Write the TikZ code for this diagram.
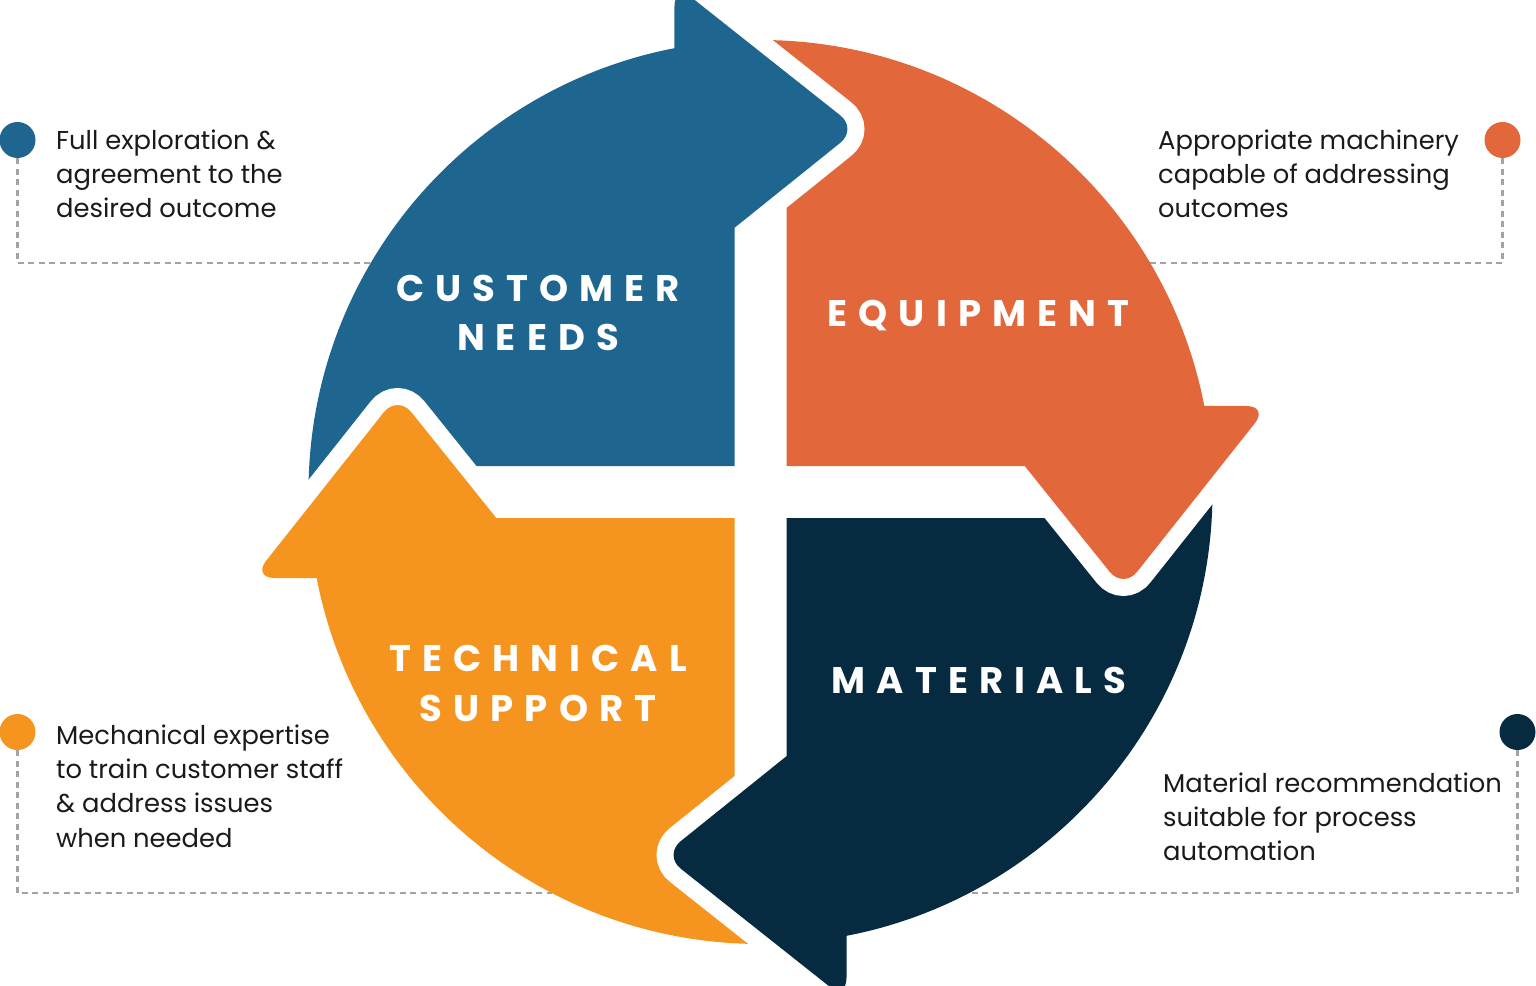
\documentclass[tikz,border=0pt]{standalone}
\usepackage{fontspec}
\setmainfont{Poppins}
\newfontfamily\titlefont{Poppins}[LetterSpace=30]
\definecolor{cblue}{HTML}{1E6690}
\definecolor{corange}{HTML}{E2673B}
\definecolor{cnavy}{HTML}{062A40}
\definecolor{cyellow}{HTML}{F5951F}
\definecolor{cguide}{HTML}{A3A3A3}
\definecolor{ctext}{HTML}{1A1A1A}
\begin{document}
\begin{tikzpicture}[x=1pt,y=1pt,
  bodytext/.style={anchor=base west, inner sep=0pt, font=\fontsize{25.8}{30}\selectfont, text=ctext},
  titletext/.style={anchor=base, inner sep=0pt, text=white, font=\titlefont\bfseries\fontsize{37}{44}\selectfont},
  gapline/.style={draw=white, line width=34pt, rounded corners=22pt},
  headfill/.style={rounded corners=22pt},
  guide/.style={draw=cguide, line width=2.5pt, dash pattern=on 6pt off 4.5pt},
  dot/.style={circle, inner sep=0pt, minimum size=36pt}
]
\useasboundingbox (-760.5,-493) rectangle (775.5,492);

% legend dots and dashed guides
\node[dot, fill=cblue]   (dB) at (-743,352) {};
\node[dot, fill=corange] (dO) at (742,352) {};
\node[dot, fill=cyellow] (dY) at (-743,-240) {};
\node[dot, fill=cnavy]   (dN) at (757,-240) {};
\coordinate (eB) at (-389.7,229);
\coordinate (eO) at (389.7,229);
\coordinate (eY) at (-208.6,-401);
\coordinate (eN) at (208.6,-401);
\draw[guide] (dB.south) |- (eB);
\draw[guide] (dO.south) |- (eO);
\draw[guide] (dY.south) |- (eY);
\draw[guide] (dN.south) |- (eN);

% quadrant bodies (each wraps behind the arrowhead that enters it)
\begin{scope}
  \clip (0,0) circle[radius=452];
  \fill[cblue]   (-26,26) -- (-300,26) -- (-340,-20) -- (-600,-20) -- (-600,600) -- (-26,600) -- cycle;
  \fill[corange] (26,26) -- (26,300) -- (-20,340) -- (-20,600) -- (600,600) -- (600,26) -- cycle;
  \fill[cnavy]   (26,-26) -- (300,-26) -- (340,20) -- (600,20) -- (600,-600) -- (26,-600) -- cycle;
  \fill[cyellow] (-26,-26) -- (-26,-300) -- (20,-340) -- (20,-600) -- (-600,-600) -- (-600,-26) -- cycle;
\end{scope}

% blue arrowhead
\coordinate (bS) at (-86,460);
\coordinate (bT) at (-86,508);
\coordinate (bA) at (97,363);
\coordinate (bB) at (-86,216);
\coordinate (bE) at (-26,264.2);
\draw[gapline] (bS) -- (bT) -- (bA) -- (bE);
\fill[cblue, headfill] (bT) -- (bA) -- (bB) -- cycle;

% orange arrowhead
\coordinate (oS) at (460,86);
\coordinate (oT) at (508,86);
\coordinate (oA) at (363,-97);
\coordinate (oB) at (216,86);
\coordinate (oE) at (264.2,26);
\draw[gapline] (oS) -- (oT) -- (oA) -- (oE);
\fill[corange, headfill] (oT) -- (oA) -- (oB) -- cycle;

% navy arrowhead
\coordinate (nS) at (86,-460);
\coordinate (nT) at (86,-508);
\coordinate (nA) at (-97,-363);
\coordinate (nB) at (86,-216);
\coordinate (nE) at (26,-264.2);
\draw[gapline] (nS) -- (nT) -- (nA) -- (nE);
\fill[cnavy, headfill] (nT) -- (nA) -- (nB) -- cycle;

% yellow arrowhead
\coordinate (yS) at (-460,-86);
\coordinate (yT) at (-508,-86);
\coordinate (yA) at (-363,97);
\coordinate (yB) at (-216,-86);
\coordinate (yE) at (-264.2,-26);
\draw[gapline] (yS) -- (yT) -- (yA) -- (yE);
\fill[cyellow, headfill] (yT) -- (yA) -- (yB) -- cycle;

% titles
\node[titletext] (t1) at (-222.5,190) {CUSTOMER};
\node[titletext] (t2) at (-222.5,141) {NEEDS};
\node[titletext] (t3) at (218,165) {EQUIPMENT};
\node[titletext] (t4) at (218.5,-201) {MATERIALS};
\node[titletext] (t5) at (-222.5,-179) {TECHNICAL};
\node[titletext] (t6) at (-222.5,-229) {SUPPORT};

% descriptions
\node[bodytext] (b1) at (-704.5,342) {Full exploration \&};
\node[bodytext] (b2) at (-704.5,308) {agreement to the};
\node[bodytext] (b3) at (-704.5,274) {desired outcome};

\node[bodytext] (o1) at (397.5,342) {Appropriate machinery};
\node[bodytext] (o2) at (397.5,308) {capable of addressing};
\node[bodytext] (o3) at (397.5,274) {outcomes};

\node[bodytext] (y1) at (-704.5,-252) {Mechanical expertise};
\node[bodytext] (y2) at (-704.5,-286) {to train customer staff};
\node[bodytext] (y3) at (-704.5,-320) {\& address issues};
\node[bodytext] (y4) at (-704.5,-355) {when needed};

\node[bodytext] (n1) at (402.5,-300) {Material recommendation};
\node[bodytext] (n2) at (402.5,-334) {suitable for process};
\node[bodytext] (n3) at (402.5,-368) {automation};
\end{tikzpicture}
\end{document}
